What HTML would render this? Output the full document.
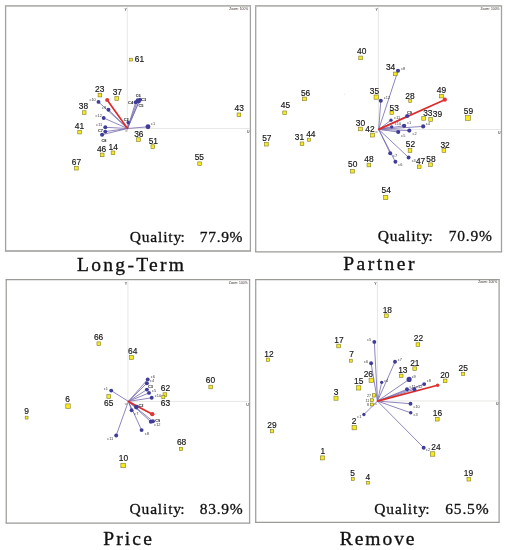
<!DOCTYPE html>
<html><head><meta charset="utf-8"><title>Biplots</title>
<style>
html,body{margin:0;padding:0;background:#fff;}
body{width:506px;height:550px;overflow:hidden;}
svg{display:block;filter:blur(0.35px);}
text{font-family:"Liberation Sans","DejaVu Sans",sans-serif;}
.n{font-size:8.4px;fill:#141414;stroke:#141414;stroke-width:0.15px;text-anchor:middle;}
.c{font-size:3.9px;fill:#3a3a3a;text-anchor:middle;}
.cb{font-size:3.9px;fill:#111;font-weight:bold;text-anchor:middle;}
.z{font-size:3.35px;fill:#3c2e2a;text-anchor:end;}
.ax{font-size:3.5px;fill:#5a5a5a;font-weight:bold;text-anchor:middle;}
.w{font-size:3.4px;fill:#8a7272;text-anchor:middle;}
.q{font-family:"Liberation Serif","DejaVu Serif",serif;font-size:15.5px;fill:#111;stroke:#111;stroke-width:0.3px;}
.t{font-family:"Liberation Serif","DejaVu Serif",serif;font-size:19.5px;fill:#111;stroke:#111;stroke-width:0.35px;}
</style></head><body>
<svg width="506" height="550" viewBox="0 0 506 550">
<rect width="506" height="550" fill="#ffffff"/>

<g>
<rect x="5.6" y="5.9" width="244.80" height="245.10" fill="#fff"/>
<path d="M5.6 5.9V251.0M250.4 5.9V251.0" fill="none" stroke="#a2a29e" stroke-width="1.3"/>
<line x1="4.95" y1="251.0" x2="251.05" y2="251.0" stroke="#9a9a96" stroke-width="1.3"/>
<line x1="4.95" y1="5.85" x2="251.05" y2="5.85" stroke="#b2b2ae" stroke-width="1.8"/>
<line x1="127.3" y1="7" x2="127.3" y2="128.5" stroke="#dcdcda" stroke-width="0.7"/>
<line x1="127.5" y1="128.5" x2="250" y2="128.5" stroke="#dcdcda" stroke-width="0.7"/>
<text class="z" x="248.3" y="9.9">Zoom: 100%</text>
<text class="ax" x="125.6" y="10.6">Y</text>
<text class="ax" x="248.3" y="133">U</text>
<line x1="127.5" y1="128.5" x2="98.5" y2="101.9" stroke="#7a70b0" stroke-width="0.85"/>
<line x1="127.5" y1="128.5" x2="108.5" y2="109.8" stroke="#7a70b0" stroke-width="0.85"/>
<line x1="127.5" y1="128.5" x2="103.7" y2="118" stroke="#7a70b0" stroke-width="0.85"/>
<line x1="127.5" y1="128.5" x2="105.3" y2="127.3" stroke="#7a70b0" stroke-width="0.85"/>
<line x1="127.5" y1="128.5" x2="105.3" y2="131.6" stroke="#7a70b0" stroke-width="0.85"/>
<line x1="127.5" y1="128.5" x2="102.1" y2="134.7" stroke="#7a70b0" stroke-width="0.85"/>
<line x1="127.5" y1="128.5" x2="128.2" y2="122.4" stroke="#7a70b0" stroke-width="0.85"/>
<line x1="127.5" y1="128.5" x2="148" y2="126.8" stroke="#7a70b0" stroke-width="0.85"/>
<line x1="127.5" y1="128.5" x2="135.7" y2="102.2" stroke="#7a70b0" stroke-width="0.85"/>
<line x1="127.5" y1="128.5" x2="137.7" y2="100.3" stroke="#7a70b0" stroke-width="0.85"/>
<line x1="127.5" y1="128.5" x2="140" y2="99.8" stroke="#7a70b0" stroke-width="0.85"/>
<line x1="127.5" y1="128.5" x2="138.8" y2="101.4" stroke="#7a70b0" stroke-width="0.85"/>
<line x1="127.5" y1="128.5" x2="107.2" y2="100.0" stroke="#dd2b2b" stroke-width="1.7" stroke-linecap="round"/>
<circle cx="107.2" cy="100.0" r="2.05" fill="#e23636"/>
<circle cx="98.5" cy="101.9" r="1.95" fill="#3f3c9a"/>
<text class="c" x="92.6" y="101.2">c10</text>
<circle cx="108.5" cy="109.8" r="1.95" fill="#3f3c9a"/>
<text class="c" x="104" y="108.9">c9</text>
<circle cx="103.7" cy="118" r="1.95" fill="#3f3c9a"/>
<text class="c" x="98.7" y="116.6">c12</text>
<circle cx="105.3" cy="127.3" r="1.95" fill="#3f3c9a"/>
<text class="c" x="99.3" y="125.9">c11</text>
<circle cx="105.3" cy="131.6" r="1.95" fill="#3f3c9a"/>
<text class="cb" x="100.5" y="131.6">C7</text>
<circle cx="102.1" cy="134.7" r="2.05" fill="#3f3c9a"/>
<text class="cb" x="104" y="141.8">C8</text>
<circle cx="128.2" cy="122.4" r="1.75" fill="#3f3c9a"/>
<text class="cb" x="126.3" y="120.8">C2</text>
<circle cx="148" cy="126.8" r="2.45" fill="#3f3c9a"/>
<text class="c" x="153" y="125.2">c1</text>
<circle cx="135.7" cy="102.2" r="1.95" fill="#3f3c9a"/>
<text class="cb" x="130.6" y="104.4">C4</text>
<circle cx="137.7" cy="100.3" r="1.95" fill="#3f3c9a"/>
<text class="cb" x="138.2" y="97.4">C6</text>
<circle cx="140" cy="99.8" r="1.95" fill="#3f3c9a"/>
<text class="cb" x="143.7" y="101.2">C3</text>
<circle cx="138.8" cy="101.4" r="1.95" fill="#3f3c9a"/>
<text class="cb" x="140.9" y="106.7">C5</text>
<text class="w" x="126.4" y="132.3">w</text>
<rect x="129.57" y="58.18" width="2.85" height="2.85" fill="#f7ea1e" stroke="#807a2c" stroke-width="0.6"/>
<text class="n" x="139.4" y="62.25">61</text>
<rect x="98.08" y="93.27" width="3.65" height="3.65" fill="#f7ea1e" stroke="#807a2c" stroke-width="0.6"/>
<text class="n" x="99.7" y="91.65">23</text>
<rect x="114.88" y="96.67" width="3.65" height="3.65" fill="#f7ea1e" stroke="#807a2c" stroke-width="0.6"/>
<text class="n" x="117.3" y="95.05">37</text>
<rect x="82.38" y="110.77" width="3.65" height="3.65" fill="#f7ea1e" stroke="#807a2c" stroke-width="0.6"/>
<text class="n" x="83.5" y="108.65">38</text>
<rect x="77.77" y="130.28" width="3.65" height="3.65" fill="#f7ea1e" stroke="#807a2c" stroke-width="0.6"/>
<text class="n" x="79.4" y="129.05">41</text>
<rect x="74.58" y="166.38" width="3.65" height="3.65" fill="#f7ea1e" stroke="#807a2c" stroke-width="0.6"/>
<text class="n" x="76.5" y="164.75">67</text>
<rect x="100.38" y="153.08" width="3.65" height="3.65" fill="#f7ea1e" stroke="#807a2c" stroke-width="0.6"/>
<text class="n" x="101.6" y="151.85">46</text>
<rect x="111.17" y="150.98" width="3.65" height="3.65" fill="#f7ea1e" stroke="#807a2c" stroke-width="0.6"/>
<text class="n" x="113.2" y="150.15">14</text>
<rect x="136.68" y="137.78" width="3.65" height="3.65" fill="#f7ea1e" stroke="#807a2c" stroke-width="0.6"/>
<text class="n" x="138.8" y="136.75">36</text>
<rect x="150.98" y="144.78" width="3.65" height="3.65" fill="#f7ea1e" stroke="#807a2c" stroke-width="0.6"/>
<text class="n" x="153.3" y="143.55">51</text>
<rect x="197.78" y="161.88" width="3.65" height="3.65" fill="#f7ea1e" stroke="#807a2c" stroke-width="0.6"/>
<text class="n" x="199.3" y="160.45">55</text>
<rect x="237.08" y="112.97" width="3.65" height="3.65" fill="#f7ea1e" stroke="#807a2c" stroke-width="0.6"/>
<text class="n" x="239.2" y="111.45">43</text>
<text class="q" x="129.7" y="241.6" style="letter-spacing:0.85px">Quality<tspan dx="-1.6">:</tspan></text>
<text class="q" x="199.8" y="241.6" textLength="42.7" lengthAdjust="spacing">77.9%</text>
<text class="t" x="77" y="271.2" textLength="107.0" lengthAdjust="spacing">Long-Term</text>
</g>
<g>
<rect x="255.7" y="5.9" width="245.80" height="246.00" fill="#fff"/>
<path d="M255.7 5.9V251.9M501.5 5.9V251.9" fill="none" stroke="#a2a29e" stroke-width="1.3"/>
<line x1="255.05" y1="251.9" x2="502.15" y2="251.9" stroke="#9a9a96" stroke-width="1.3"/>
<line x1="255.05" y1="5.85" x2="502.15" y2="5.85" stroke="#b2b2ae" stroke-width="1.8"/>
<line x1="378.4" y1="7" x2="378.4" y2="129.4" stroke="#dcdcda" stroke-width="0.7"/>
<line x1="378.7" y1="129.5" x2="501" y2="129.5" stroke="#dcdcda" stroke-width="0.7"/>
<text class="z" x="499.5" y="10.0">Zoom: 100%</text>
<text class="ax" x="376.6" y="10.7">Y</text>
<text class="ax" x="499.2" y="133.6">U</text>
<line x1="378.7" y1="129.4" x2="398.0" y2="70.7" stroke="#7a70b0" stroke-width="0.85"/>
<line x1="378.7" y1="129.4" x2="380.8" y2="100.8" stroke="#7a70b0" stroke-width="0.85"/>
<line x1="378.7" y1="129.4" x2="391.0" y2="120.2" stroke="#7a70b0" stroke-width="0.85"/>
<line x1="378.7" y1="129.4" x2="407.2" y2="116.0" stroke="#7a70b0" stroke-width="0.85"/>
<line x1="378.7" y1="129.4" x2="391.7" y2="126.8" stroke="#7a70b0" stroke-width="0.85"/>
<line x1="378.7" y1="129.4" x2="404.1" y2="125.8" stroke="#7a70b0" stroke-width="0.85"/>
<line x1="378.7" y1="129.4" x2="423.2" y2="126.4" stroke="#7a70b0" stroke-width="0.85"/>
<line x1="378.7" y1="129.4" x2="409.3" y2="130.6" stroke="#7a70b0" stroke-width="0.85"/>
<line x1="378.7" y1="129.4" x2="398.2" y2="132.0" stroke="#7a70b0" stroke-width="0.85"/>
<line x1="378.7" y1="129.4" x2="390.2" y2="153.3" stroke="#7a70b0" stroke-width="0.85"/>
<line x1="378.7" y1="129.4" x2="395.4" y2="161.8" stroke="#7a70b0" stroke-width="0.85"/>
<line x1="378.7" y1="129.4" x2="408.6" y2="157.5" stroke="#7a70b0" stroke-width="0.85"/>
<line x1="378.7" y1="129.4" x2="444.8" y2="99.7" stroke="#dd2b2b" stroke-width="1.7" stroke-linecap="round"/>
<circle cx="444.8" cy="99.7" r="2.15" fill="#e23636"/>
<circle cx="398.0" cy="70.7" r="2.05" fill="#3f3c9a"/>
<text class="c" x="403.2" y="69.6">c8</text>
<circle cx="380.8" cy="100.8" r="2.05" fill="#3f3c9a"/>
<text class="c" x="387.0" y="99.4">c12</text>
<circle cx="391.0" cy="120.2" r="1.65" fill="#3f3c9a"/>
<text class="c" x="397.2" y="118.9">c11</text>
<circle cx="407.2" cy="116.0" r="2.05" fill="#3f3c9a"/>
<text class="cb" x="409.5" y="113.8">C9</text>
<circle cx="391.7" cy="126.8" r="1.65" fill="#3f3c9a"/>
<text class="c" x="398.0" y="125.4">c10</text>
<circle cx="404.1" cy="125.8" r="2.15" fill="#3f3c9a"/>
<text class="c" x="409.2" y="124.4">c1</text>
<circle cx="423.2" cy="126.4" r="2.05" fill="#3f3c9a"/>
<text class="c" x="427.9" y="125.1">c4</text>
<circle cx="409.3" cy="130.6" r="2.05" fill="#3f3c9a"/>
<text class="c" x="414.5" y="135.2">c2</text>
<circle cx="398.2" cy="132.0" r="2.05" fill="#3f3c9a"/>
<text class="c" x="403.4" y="136.6">c5</text>
<circle cx="390.2" cy="153.3" r="1.95" fill="#3f3c9a"/>
<text class="c" x="395.0" y="157.2">c7</text>
<circle cx="395.4" cy="161.8" r="1.95" fill="#3f3c9a"/>
<text class="c" x="400.3" y="166.0">c6</text>
<circle cx="408.6" cy="157.5" r="1.95" fill="#3f3c9a"/>
<text class="c" x="413.7" y="161.8">c3</text>
<text class="w" x="376.6" y="133.3">w</text>
<rect x="358.78" y="56.07" width="3.65" height="3.65" fill="#f7ea1e" stroke="#807a2c" stroke-width="0.6"/>
<text class="n" x="361.7" y="54.35">40</text>
<rect x="393.48" y="72.08" width="3.65" height="3.65" fill="#f7ea1e" stroke="#807a2c" stroke-width="0.6"/>
<text class="n" x="390.6" y="70.35">34</text>
<rect x="374.07" y="94.97" width="4.25" height="4.25" fill="#f7ea1e" stroke="#807a2c" stroke-width="0.6"/>
<text class="n" x="374.4" y="93.85">35</text>
<rect x="408.72" y="99.62" width="2.95" height="2.95" fill="#f7ea1e" stroke="#807a2c" stroke-width="0.6"/>
<text class="n" x="410.0" y="98.75">28</text>
<rect x="389.97" y="110.98" width="3.45" height="3.45" fill="#f7ea1e" stroke="#807a2c" stroke-width="0.6"/>
<text class="n" x="394.2" y="110.65">53</text>
<rect x="358.68" y="127.17" width="3.65" height="3.65" fill="#f7ea1e" stroke="#807a2c" stroke-width="0.6"/>
<text class="n" x="360.5" y="126.45">30</text>
<rect x="370.57" y="133.17" width="3.85" height="3.85" fill="#f7ea1e" stroke="#807a2c" stroke-width="0.6"/>
<text class="n" x="370.0" y="131.65">42</text>
<rect x="439.68" y="94.27" width="3.65" height="3.65" fill="#f7ea1e" stroke="#807a2c" stroke-width="0.6"/>
<text class="n" x="441.5" y="92.95">49</text>
<rect x="421.78" y="116.58" width="3.65" height="3.65" fill="#f7ea1e" stroke="#807a2c" stroke-width="0.6"/>
<text class="n" x="427.8" y="115.55">33</text>
<rect x="428.78" y="117.67" width="3.65" height="3.65" fill="#f7ea1e" stroke="#807a2c" stroke-width="0.6"/>
<text class="n" x="437.5" y="116.85">39</text>
<rect x="465.68" y="115.67" width="4.65" height="4.65" fill="#f7ea1e" stroke="#807a2c" stroke-width="0.6"/>
<text class="n" x="468.4" y="114.35">59</text>
<rect x="302.68" y="97.08" width="3.65" height="3.65" fill="#f7ea1e" stroke="#807a2c" stroke-width="0.6"/>
<text class="n" x="305.6" y="95.85">56</text>
<rect x="282.78" y="110.97" width="3.65" height="3.65" fill="#f7ea1e" stroke="#807a2c" stroke-width="0.6"/>
<text class="n" x="285.5" y="108.45">45</text>
<rect x="264.57" y="142.38" width="3.65" height="3.65" fill="#f7ea1e" stroke="#807a2c" stroke-width="0.6"/>
<text class="n" x="266.8" y="140.55">57</text>
<rect x="300.18" y="141.98" width="3.65" height="3.65" fill="#f7ea1e" stroke="#807a2c" stroke-width="0.6"/>
<text class="n" x="299.4" y="139.65">31</text>
<rect x="307.48" y="138.17" width="3.05" height="3.05" fill="#f7ea1e" stroke="#807a2c" stroke-width="0.6"/>
<text class="n" x="310.8" y="137.25">44</text>
<rect x="367.07" y="163.18" width="3.65" height="3.65" fill="#f7ea1e" stroke="#807a2c" stroke-width="0.6"/>
<text class="n" x="368.9" y="161.65">48</text>
<rect x="350.68" y="169.38" width="3.65" height="3.65" fill="#f7ea1e" stroke="#807a2c" stroke-width="0.6"/>
<text class="n" x="352.7" y="167.35">50</text>
<rect x="383.57" y="195.38" width="4.25" height="4.25" fill="#f7ea1e" stroke="#807a2c" stroke-width="0.6"/>
<text class="n" x="386.2" y="192.95">54</text>
<rect x="408.18" y="148.68" width="3.65" height="3.65" fill="#f7ea1e" stroke="#807a2c" stroke-width="0.6"/>
<text class="n" x="410.4" y="147.45">52</text>
<rect x="442.07" y="148.68" width="3.65" height="3.65" fill="#f7ea1e" stroke="#807a2c" stroke-width="0.6"/>
<text class="n" x="445.1" y="147.75">32</text>
<rect x="417.38" y="164.98" width="3.65" height="3.65" fill="#f7ea1e" stroke="#807a2c" stroke-width="0.6"/>
<text class="n" x="420.6" y="163.75">47</text>
<rect x="428.68" y="162.88" width="3.65" height="3.65" fill="#f7ea1e" stroke="#807a2c" stroke-width="0.6"/>
<text class="n" x="431.0" y="161.65">58</text>
<text class="q" x="377.7" y="241.4" style="letter-spacing:0.85px">Quality<tspan dx="-1.6">:</tspan></text>
<text class="q" x="448.7" y="241.4" textLength="43.3" lengthAdjust="spacing">70.9%</text>
<text class="t" x="343.2" y="270.3" textLength="71.3" lengthAdjust="spacing">Partner</text>
</g>
<g>
<rect x="6.25" y="279.7" width="243.35" height="243.50" fill="#fff"/>
<path d="M6.25 279.7V523.2M249.6 279.7V523.2" fill="none" stroke="#a2a29e" stroke-width="1.3"/>
<line x1="5.60" y1="523.2" x2="250.25" y2="523.2" stroke="#9a9a96" stroke-width="1.3"/>
<line x1="5.60" y1="279.7" x2="250.25" y2="279.7" stroke="#9a9a96" stroke-width="1.3"/>
<line x1="127.9" y1="281" x2="127.9" y2="401.4" stroke="#dcdcda" stroke-width="0.7"/>
<line x1="128.4" y1="401.4" x2="249.5" y2="401.4" stroke="#dcdcda" stroke-width="0.7"/>
<text class="z" x="247.7" y="283.8">Zoom: 100%</text>
<text class="ax" x="126.0" y="284.7">Y</text>
<text class="ax" x="247.6" y="405.6">U</text>
<line x1="128.4" y1="401.4" x2="111.2" y2="390.6" stroke="#7a70b0" stroke-width="0.85"/>
<line x1="128.4" y1="401.4" x2="147.7" y2="379.4" stroke="#7a70b0" stroke-width="0.85"/>
<line x1="128.4" y1="401.4" x2="146.9" y2="383.2" stroke="#7a70b0" stroke-width="0.85"/>
<line x1="128.4" y1="401.4" x2="146.9" y2="389.6" stroke="#7a70b0" stroke-width="0.85"/>
<line x1="128.4" y1="401.4" x2="149.0" y2="392.9" stroke="#7a70b0" stroke-width="0.85"/>
<line x1="128.4" y1="401.4" x2="151.7" y2="397.8" stroke="#7a70b0" stroke-width="0.85"/>
<line x1="128.4" y1="401.4" x2="136.3" y2="407.1" stroke="#7a70b0" stroke-width="0.85"/>
<line x1="128.4" y1="401.4" x2="131.6" y2="410.3" stroke="#7a70b0" stroke-width="0.85"/>
<line x1="128.4" y1="401.4" x2="150.9" y2="421.8" stroke="#7a70b0" stroke-width="0.85"/>
<line x1="128.4" y1="401.4" x2="152.9" y2="421.3" stroke="#7a70b0" stroke-width="0.85"/>
<line x1="128.4" y1="401.4" x2="141.6" y2="430.1" stroke="#7a70b0" stroke-width="0.85"/>
<line x1="128.4" y1="401.4" x2="116.2" y2="435.5" stroke="#7a70b0" stroke-width="0.85"/>
<line x1="128.4" y1="401.4" x2="152.3" y2="414.2" stroke="#dd2b2b" stroke-width="1.7" stroke-linecap="round"/>
<circle cx="152.3" cy="414.2" r="2.15" fill="#e23636"/>
<circle cx="111.2" cy="390.6" r="1.95" fill="#3f3c9a"/>
<text class="c" x="105.8" y="390.0">c1</text>
<circle cx="147.7" cy="379.4" r="1.95" fill="#3f3c9a"/>
<text class="c" x="152.8" y="378.2">c6</text>
<circle cx="146.9" cy="383.2" r="1.95" fill="#3f3c9a"/>
<text class="c" x="152.1" y="382.2">c4</text>
<circle cx="146.9" cy="389.6" r="1.95" fill="#3f3c9a"/>
<text class="cb" x="150.4" y="388.2">C3</text>
<circle cx="149.0" cy="392.9" r="1.95" fill="#3f3c9a"/>
<text class="c" x="154.0" y="391.6">c5</text>
<circle cx="151.7" cy="397.8" r="1.95" fill="#3f3c9a"/>
<text class="c" x="158.0" y="396.6">c10</text>
<circle cx="136.3" cy="407.1" r="2.35" fill="#3f3c9a"/>
<text class="cb" x="140.9" y="407.2">C2</text>
<circle cx="131.6" cy="410.3" r="1.95" fill="#3f3c9a"/>
<text class="c" x="136.3" y="415.0">c7</text>
<circle cx="150.9" cy="421.8" r="2.05" fill="#3f3c9a"/>
<text class="cb" x="157.7" y="422.1">C9</text>
<circle cx="152.9" cy="421.3" r="2.05" fill="#3f3c9a"/>
<text class="c" x="157.4" y="426.4">c12</text>
<circle cx="141.6" cy="430.1" r="1.95" fill="#3f3c9a"/>
<text class="c" x="146.9" y="434.8">c8</text>
<circle cx="116.2" cy="435.5" r="1.95" fill="#3f3c9a"/>
<text class="c" x="110.2" y="440.2">c11</text>
<text class="w" x="126.0" y="405.3">w</text>
<rect x="106.88" y="394.68" width="3.65" height="3.65" fill="#f7ea1e" stroke="#807a2c" stroke-width="0.6"/>
<text class="n" x="108.7" y="406.35">65</text>
<rect x="163.08" y="392.78" width="3.65" height="3.65" fill="#f7ea1e" stroke="#807a2c" stroke-width="0.6"/>
<text class="n" x="165.5" y="390.65">62</text>
<rect x="161.78" y="395.68" width="3.05" height="3.05" fill="#f7ea1e" stroke="#807a2c" stroke-width="0.6"/>
<text class="n" x="165.4" y="405.55">63</text>
<rect x="208.88" y="385.18" width="3.65" height="3.65" fill="#f7ea1e" stroke="#807a2c" stroke-width="0.6"/>
<text class="n" x="210.5" y="383.15">60</text>
<rect x="96.97" y="341.88" width="3.65" height="3.65" fill="#f7ea1e" stroke="#807a2c" stroke-width="0.6"/>
<text class="n" x="98.6" y="340.35">66</text>
<rect x="129.68" y="355.68" width="3.65" height="3.65" fill="#f7ea1e" stroke="#807a2c" stroke-width="0.6"/>
<text class="n" x="132.7" y="354.05">64</text>
<rect x="25.18" y="416.18" width="2.85" height="2.85" fill="#f7ea1e" stroke="#807a2c" stroke-width="0.6"/>
<text class="n" x="26.6" y="414.25">9</text>
<rect x="65.78" y="403.88" width="4.45" height="4.45" fill="#f7ea1e" stroke="#807a2c" stroke-width="0.6"/>
<text class="n" x="67.5" y="401.85">6</text>
<rect x="179.38" y="447.27" width="3.25" height="3.25" fill="#f7ea1e" stroke="#807a2c" stroke-width="0.6"/>
<text class="n" x="181.6" y="445.45">68</text>
<rect x="120.88" y="463.27" width="4.45" height="4.45" fill="#f7ea1e" stroke="#807a2c" stroke-width="0.6"/>
<text class="n" x="123.4" y="461.25">10</text>
<text class="q" x="129.5" y="514.1" style="letter-spacing:0.85px">Quality<tspan dx="-1.6">:</tspan></text>
<text class="q" x="199.8" y="514.1" textLength="42.9" lengthAdjust="spacing">83.9%</text>
<text class="t" x="103.2" y="545.1" textLength="48.6" lengthAdjust="spacing">Price</text>
</g>
<g>
<rect x="255.7" y="279.7" width="243.40" height="242.70" fill="#fff"/>
<path d="M255.7 279.7V522.4M499.1 279.7V522.4" fill="none" stroke="#a2a29e" stroke-width="1.3"/>
<line x1="255.05" y1="522.4" x2="499.75" y2="522.4" stroke="#9a9a96" stroke-width="1.3"/>
<line x1="255.05" y1="279.7" x2="499.75" y2="279.7" stroke="#9a9a96" stroke-width="1.3"/>
<line x1="377.4" y1="281" x2="377.4" y2="401.1" stroke="#dcdcda" stroke-width="0.7"/>
<line x1="377.5" y1="401.0" x2="499" y2="401.0" stroke="#dcdcda" stroke-width="0.7"/>
<text class="z" x="497.2" y="283.4">Zoom: 100%</text>
<text class="ax" x="375.3" y="284.5">Y</text>
<text class="ax" x="497.2" y="405.2">U</text>
<line x1="377.5" y1="401.1" x2="374.3" y2="341.9" stroke="#7a70b0" stroke-width="0.85"/>
<line x1="377.5" y1="401.1" x2="371.1" y2="363.3" stroke="#7a70b0" stroke-width="0.85"/>
<line x1="377.5" y1="401.1" x2="395.0" y2="361.8" stroke="#7a70b0" stroke-width="0.85"/>
<line x1="377.5" y1="401.1" x2="381.7" y2="382.3" stroke="#7a70b0" stroke-width="0.85"/>
<line x1="377.5" y1="401.1" x2="409.1" y2="379.4" stroke="#7a70b0" stroke-width="0.85"/>
<line x1="377.5" y1="401.1" x2="407.0" y2="389.3" stroke="#7a70b0" stroke-width="0.85"/>
<line x1="377.5" y1="401.1" x2="414.4" y2="389.3" stroke="#7a70b0" stroke-width="0.85"/>
<line x1="377.5" y1="401.1" x2="424.2" y2="384.1" stroke="#7a70b0" stroke-width="0.85"/>
<line x1="377.5" y1="401.1" x2="410.5" y2="403.7" stroke="#7a70b0" stroke-width="0.85"/>
<line x1="377.5" y1="401.1" x2="410.7" y2="412.8" stroke="#7a70b0" stroke-width="0.85"/>
<line x1="377.5" y1="401.1" x2="363.9" y2="414.5" stroke="#7a70b0" stroke-width="0.85"/>
<line x1="377.5" y1="401.1" x2="423.7" y2="447.7" stroke="#7a70b0" stroke-width="0.85"/>
<line x1="377.5" y1="401.1" x2="437.6" y2="385.2" stroke="#dd2b2b" stroke-width="1.7" stroke-linecap="round"/>
<circle cx="437.6" cy="385.2" r="1.75" fill="#e23636"/>
<circle cx="374.3" cy="341.9" r="1.95" fill="#3f3c9a"/>
<text class="c" x="369.2" y="341.3">c5</text>
<circle cx="371.1" cy="363.3" r="1.95" fill="#3f3c9a"/>
<text class="c" x="366.1" y="362.5">c6</text>
<circle cx="395.0" cy="361.8" r="1.95" fill="#3f3c9a"/>
<text class="c" x="399.8" y="360.9">c7</text>
<circle cx="381.7" cy="382.3" r="1.65" fill="#3f3c9a"/>
<text class="c" x="386.2" y="381.7">c4</text>
<circle cx="409.1" cy="379.4" r="2.55" fill="#3f3c9a"/>
<text class="c" x="413.7" y="378.3">c9</text>
<circle cx="407.0" cy="389.3" r="1.95" fill="#3f3c9a"/>
<text class="c" x="412.5" y="387.7">c11</text>
<circle cx="414.4" cy="389.3" r="1.95" fill="#3f3c9a"/>
<text class="c" x="419.3" y="387.7">c12</text>
<circle cx="424.2" cy="384.1" r="1.95" fill="#3f3c9a"/>
<text class="c" x="428.9" y="382.1">c8</text>
<circle cx="410.5" cy="403.7" r="1.95" fill="#3f3c9a"/>
<text class="c" x="416.6" y="407.5">c10</text>
<circle cx="410.7" cy="412.8" r="1.75" fill="#3f3c9a"/>
<text class="c" x="415.6" y="416.3">c3</text>
<circle cx="363.9" cy="414.5" r="1.65" fill="#3f3c9a"/>
<text class="c" x="359.3" y="418.3">c1</text>
<circle cx="423.7" cy="447.7" r="1.95" fill="#3f3c9a"/>
<text class="c" x="428.0" y="451.1">c2</text>
<text class="w" x="375.8" y="405.0">w</text>
<rect x="372.32" y="393.72" width="3.35" height="3.35" fill="#f7ea1e" stroke="#77742a" stroke-width="0.6"/>
<text class="c" x="369.1" y="397.1" style="font-size:3.6px">27</text>
<rect x="370.55" y="398.75" width="2.9" height="2.9" fill="#f7ea1e" stroke="#77742a" stroke-width="0.6"/>
<text class="c" x="367.4" y="402.0" style="font-size:3.6px">11</text>
<rect x="370.45" y="403.05" width="2.9" height="2.9" fill="#f7ea1e" stroke="#77742a" stroke-width="0.6"/>
<text class="c" x="367.9" y="406.1" style="font-size:3.6px">8</text>
<rect x="349.32" y="359.22" width="2.95" height="2.95" fill="#f7ea1e" stroke="#807a2c" stroke-width="0.6"/>
<text class="n" x="351.7" y="356.95">7</text>
<rect x="369.07" y="378.17" width="4.45" height="4.45" fill="#f7ea1e" stroke="#807a2c" stroke-width="0.6"/>
<text class="n" x="368.3" y="377.15">26</text>
<rect x="356.57" y="385.77" width="4.25" height="4.25" fill="#f7ea1e" stroke="#807a2c" stroke-width="0.6"/>
<text class="n" x="358.7" y="383.95">15</text>
<rect x="399.57" y="374.07" width="3.45" height="3.45" fill="#f7ea1e" stroke="#807a2c" stroke-width="0.6"/>
<text class="n" x="402.8" y="373.05">13</text>
<rect x="412.88" y="366.78" width="3.65" height="3.65" fill="#f7ea1e" stroke="#807a2c" stroke-width="0.6"/>
<text class="n" x="414.8" y="365.75">21</text>
<rect x="416.07" y="342.78" width="3.65" height="3.65" fill="#f7ea1e" stroke="#807a2c" stroke-width="0.6"/>
<text class="n" x="418.4" y="341.25">22</text>
<rect x="352.07" y="425.57" width="4.25" height="4.25" fill="#f7ea1e" stroke="#807a2c" stroke-width="0.6"/>
<text class="n" x="354.2" y="424.05">2</text>
<rect x="461.68" y="372.28" width="3.05" height="3.05" fill="#f7ea1e" stroke="#807a2c" stroke-width="0.6"/>
<text class="n" x="463.2" y="370.65">25</text>
<rect x="443.28" y="379.07" width="3.65" height="3.65" fill="#f7ea1e" stroke="#807a2c" stroke-width="0.6"/>
<text class="n" x="444.8" y="377.65">20</text>
<rect x="435.48" y="417.38" width="3.65" height="3.65" fill="#f7ea1e" stroke="#807a2c" stroke-width="0.6"/>
<text class="n" x="437.5" y="415.85">16</text>
<rect x="430.38" y="451.77" width="4.45" height="4.45" fill="#f7ea1e" stroke="#807a2c" stroke-width="0.6"/>
<text class="n" x="436.0" y="450.35">24</text>
<rect x="266.27" y="358.07" width="3.25" height="3.25" fill="#f7ea1e" stroke="#807a2c" stroke-width="0.6"/>
<text class="n" x="268.9" y="356.65">12</text>
<rect x="336.78" y="344.18" width="3.65" height="3.65" fill="#f7ea1e" stroke="#807a2c" stroke-width="0.6"/>
<text class="n" x="339.0" y="342.85">17</text>
<rect x="333.98" y="396.18" width="4.05" height="4.05" fill="#f7ea1e" stroke="#807a2c" stroke-width="0.6"/>
<text class="n" x="336.2" y="394.85">3</text>
<rect x="270.38" y="429.57" width="3.25" height="3.25" fill="#f7ea1e" stroke="#807a2c" stroke-width="0.6"/>
<text class="n" x="272.0" y="427.75">29</text>
<rect x="320.38" y="455.88" width="4.05" height="4.05" fill="#f7ea1e" stroke="#807a2c" stroke-width="0.6"/>
<text class="n" x="322.9" y="454.45">1</text>
<rect x="351.38" y="477.68" width="2.85" height="2.85" fill="#f7ea1e" stroke="#807a2c" stroke-width="0.6"/>
<text class="n" x="352.7" y="475.95">5</text>
<rect x="366.57" y="481.27" width="2.85" height="2.85" fill="#f7ea1e" stroke="#807a2c" stroke-width="0.6"/>
<text class="n" x="367.8" y="479.65">4</text>
<rect x="384.57" y="313.88" width="3.65" height="3.65" fill="#f7ea1e" stroke="#807a2c" stroke-width="0.6"/>
<text class="n" x="387.3" y="312.75">18</text>
<rect x="466.98" y="477.38" width="3.65" height="3.65" fill="#f7ea1e" stroke="#807a2c" stroke-width="0.6"/>
<text class="n" x="468.5" y="475.55">19</text>
<text class="q" x="374.3" y="513.7" style="letter-spacing:0.85px">Quality<tspan dx="-1.6">:</tspan></text>
<text class="q" x="445.3" y="513.7" textLength="43.3" lengthAdjust="spacing">65.5%</text>
<text class="t" x="339.7" y="544.9" textLength="74.8" lengthAdjust="spacing">Remove</text>
</g>
<circle cx="344.4" cy="94.2" r="0.45" fill="#cfcfcf"/>
</svg></body></html>
